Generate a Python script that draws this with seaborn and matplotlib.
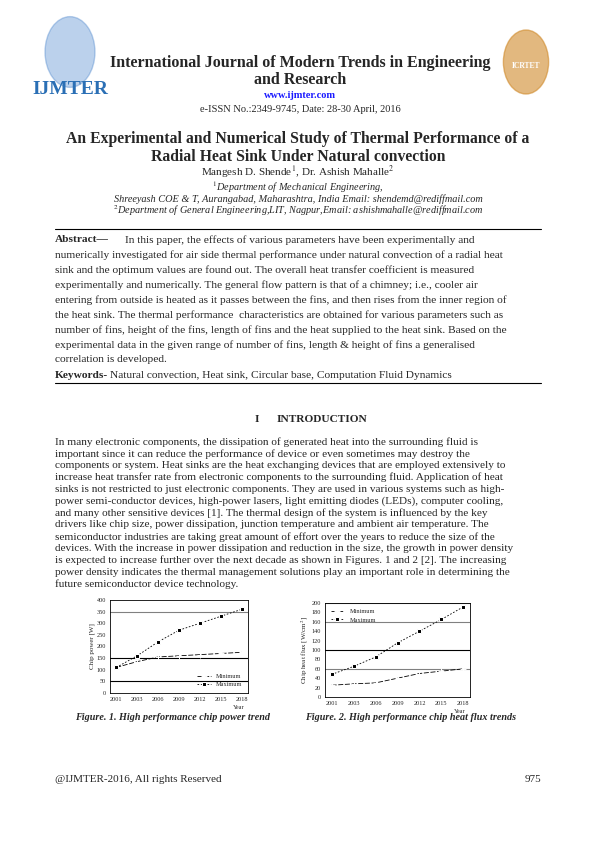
import matplotlib
matplotlib.use("Agg")
import matplotlib.pyplot as plt
import seaborn as sns

years = ["2001", "2003", "2006", "2009", "2012", "2015", "2018"]
power_min = [110, 135, 155, 160, 165, 170, 175]
power_max = [110, 160, 220, 270, 300, 330, 360]
flux_min = [25, 28, 30, 40, 50, 55, 60]
flux_max = [48, 65, 85, 115, 140, 165, 192]

sns.set_theme(style="white")
plt.rcParams['font.family'] = ['Liberation Serif', 'DejaVu Serif']
plt.rcParams['mathtext.fontset'] = 'stix'

W, H = 595, 842
fig = plt.figure(figsize=(5.95, 8.42), dpi=100)


def t(x, y, s, size=8.2, ha="left", **kw):
    fig.text(x / W, 1 - y / H, s, fontsize=size, ha=ha, va="center", **kw)


# header logos (simplified)
fig.add_artist(plt.Circle((70 / W, 1 - 52 / H), 0.042, transform=fig.transFigure,
                          color="#3d7cc9", alpha=0.35))
t(70, 90, "IJMTER", 14, "center", weight="bold", color="#2a6fb5")
fig.add_artist(plt.Circle((526 / W, 1 - 62 / H), 0.038, transform=fig.transFigure,
                          color="#d08a2a", alpha=0.6))
t(526, 66, "ICRTET", 5.5, "center", weight="bold", color="white")

t(300, 63, "International Journal of Modern Trends in Engineering", 11.5, "center", weight="bold")
t(300, 80, "and Research", 11.5, "center", weight="bold")
t(300, 96, "www.ijmter.com", 7.5, "center", weight="bold", color="#1a1aff")
t(300, 109, "e-ISSN No.:2349-9745, Date: 28-30 April, 2016", 7.5, "center")

# title block
t(298, 139, "An Experimental and Numerical Study of Thermal Performance of a", 11.3, "center", weight="bold")
t(298, 157, "Radial Heat Sink Under Natural convection", 11.3, "center", weight="bold")
t(298, 172, "Mangesh D. Shende$^1$, Dr. Ashish Mahalle$^2$", 8.0, "center")
t(298, 187, "$^1$Department of Mechanical Engineering,", 7.4, "center", style="italic")
t(298, 199, "Shreeyash COE & T, Aurangabad, Maharashtra, India Email: shendemd@rediffmail.com", 7.4, "center", style="italic")
t(298, 211, "$^2$Department of General Engineering,LIT, Nagpur,Email: ashishmahalle@rediffmail.com", 7.4, "center", style="italic")

fig.add_artist(plt.Line2D([55 / W, 541 / W], [1 - 229 / H] * 2, color="black", lw=0.8))
fig.add_artist(plt.Line2D([55 / W, 541 / W], [1 - 383 / H] * 2, color="black", lw=0.8))

abstract = [
    "In this paper, the effects of various parameters have been experimentally and",
    "numerically investigated for air side thermal performance under natural convection of a radial heat",
    "sink and the optimum values are found out. The overall heat transfer coefficient is measured",
    "experimentally and numerically. The general flow pattern is that of a chimney; i.e., cooler air",
    "entering from outside is heated as it passes between the fins, and then rises from the inner region of",
    "the heat sink. The thermal performance  characteristics are obtained for various parameters such as",
    "number of fins, height of the fins, length of fins and the heat supplied to the heat sink. Based on the",
    "experimental data in the given range of number of fins, length & height of fins a generalised",
    "correlation is developed.",
]
t(55, 240, "Abstract\u2014", 8.2, weight="bold")
t(125, 240, abstract[0])
for i, line in enumerate(abstract[1:]):
    t(55, 255 + 15 * i, line)
t(55, 375, "Keywords-", 8.2, weight="bold")
t(110, 375, "Natural convection, Heat sink, Circular base, Computation Fluid Dynamics")

t(255, 419, "I", 8.2, weight="bold")
t(277, 419, "INTRODUCTION", 8.2, weight="bold")

intro = [
    "In many electronic components, the dissipation of generated heat into the surrounding fluid is",
    "important since it can reduce the performance of device or even sometimes may destroy the",
    "components or system. Heat sinks are the heat exchanging devices that are employed extensively to",
    "increase heat transfer rate from electronic components to the surrounding fluid. Application of heat",
    "sinks is not restricted to just electronic components. They are used in various systems such as high-",
    "power semi-conductor devices, high-power lasers, light emitting diodes (LEDs), computer cooling,",
    "and many other sensitive devices [1]. The thermal design of the system is influenced by the key",
    "drivers like chip size, power dissipation, junction temperature and ambient air temperature. The",
    "semiconductor industries are taking great amount of effort over the years to reduce the size of the",
    "devices. With the increase in power dissipation and reduction in the size, the growth in power density",
    "is expected to increase further over the next decade as shown in Figures. 1 and 2 [2]. The increasing",
    "power density indicates the thermal management solutions play an important role in determining the",
    "future semiconductor device technology.",
]
for i, line in enumerate(intro):
    t(55, 442 + 11.85 * i, line, 8.1)

t(173, 718, "Figure. 1. High performance chip power trend", 7.3, "center", weight="bold", style="italic")
t(411, 718, "Figure. 2. High performance chip heat flux trends", 7.3, "center", weight="bold", style="italic")
t(55, 780, "@IJMTER-2016, All rights Reserved", 8.0)
t(541, 780, "975", 8.0, "right")


def chart(rect, mins, maxs, ylim, ystep, ylabel, legend_loc, black, gray):
    ax = fig.add_axes(rect)
    sns.lineplot(x=years, y=mins, ax=ax, color="black", marker="+", markersize=4,
                 markeredgewidth=0.7, dashes=(6, 2), linewidth=0.6, sort=False, label="Minimum")
    sns.lineplot(x=years, y=maxs, ax=ax, color="black", marker="s", markersize=2.5,
                 dashes=(2, 2), linewidth=0.6, sort=False, label="Maximum")
    ax.set_ylim(*ylim)
    ax.set_yticks(range(ylim[0], ylim[1] + 1, ystep))
    for y in black:
        ax.axhline(y, color="black", lw=0.8, zorder=0)
    for y in gray:
        ax.axhline(y, color="gray", lw=0.8, zorder=0)
    ax.tick_params(labelsize=4.5, length=2, pad=1)
    ax.set_xlabel("Year", fontsize=4.5, labelpad=0)
    ax.xaxis.set_label_coords(0.93, -0.125)
    ax.set_ylabel(ylabel, fontsize=5, labelpad=1)
    for sp in ax.spines.values():
        sp.set_linewidth(0.6)
        sp.set_color("black")
    ax.legend(loc=legend_loc, fontsize=4.5, frameon=False, handlelength=2.2)
    return ax


chart([110 / W, 1 - 693 / H, 138 / W, 93 / H], power_min, power_max, (0, 400), 50,
      "Chip power [W]", "lower right", [50, 150], [350])
chart([325 / W, 1 - 697 / H, 145 / W, 94 / H], flux_min, flux_max, (0, 200), 20,
      "Chip heat flux [W/cm$^2$]", "upper left", [100], [60, 160, 200])

fig.savefig("out.png", dpi=100)
